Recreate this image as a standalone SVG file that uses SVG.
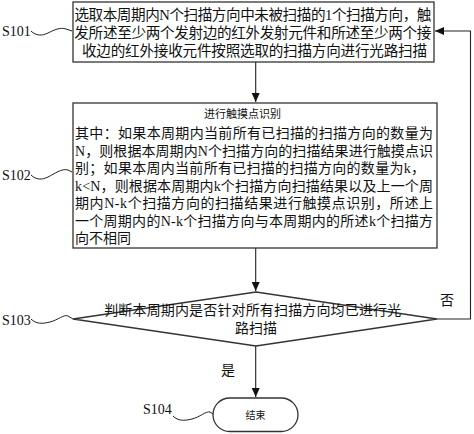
<svg xmlns="http://www.w3.org/2000/svg" width="474" height="434" viewBox="0 0 474 434">
<defs>
<marker id="arr" markerWidth="10" markerHeight="10" refX="9" refY="5" orient="auto" markerUnits="userSpaceOnUse">
<path d="M0,1 L9,5 L0,9 Z" fill="#111"/>
</marker>
<style>
.shape{fill:#fff;stroke:#333;stroke-width:1.3}
.cn{font-family:"Liberation Serif","Noto Sans CJK SC",serif;fill:#111}
.lbl{font-family:"Liberation Serif",serif;font-size:14px;fill:#111}
.conn{fill:none;stroke:#222;stroke-width:1.1}
.sq{fill:none;stroke:#222;stroke-width:1}
</style>
</defs>
<rect width="474" height="434" fill="#fff"/>
<g id="connectors">
<line class="conn" x1="255.7" y1="62" x2="255.7" y2="102" marker-end="url(#arr)"/>
<line class="conn" x1="255.7" y1="248" x2="255.7" y2="291" marker-end="url(#arr)"/>
<line class="conn" x1="255.7" y1="346" x2="255.7" y2="397" marker-end="url(#arr)"/>
<polyline class="conn" points="437,319 470.5,319 470.5,31 435,31" marker-end="url(#arr)"/>
<text class="cn" x="447" y="305" font-size="14" text-anchor="middle">否</text>
<text class="cn" x="228" y="375" font-size="14" text-anchor="middle">是</text>
</g>
<g id="S101">
<rect class="shape" x="73" y="2" width="361" height="60"/>
<text class="cn" font-size="14.6" text-anchor="middle">
<tspan x="254.5" y="20" textLength="357" lengthAdjust="spacing">选取本周期内N个扫描方向中未被扫描的1个扫描方向，触</tspan>
<tspan x="254.5" y="38" textLength="357" lengthAdjust="spacing">发所述至少两个发射边的红外发射元件和所述至少两个接</tspan>
<tspan x="254.5" y="56" textLength="345" lengthAdjust="spacing">收边的红外接收元件按照选取的扫描方向进行光路扫描</tspan>
</text>
<text class="lbl" x="2" y="36">S101</text>
<path class="sq" d="M31,31 C36,36 42,36 48,33 C54,30 60,27 66,29 L72,31"/>
</g>
<g id="S102">
<rect class="shape" x="73" y="103" width="364" height="145"/>
<text class="cn" x="242.5" y="118" font-size="11" text-anchor="middle">进行触摸点识别</text>
<text class="cn" font-size="14">
<tspan x="75" y="138" textLength="358" lengthAdjust="spacing">其中：如果本周期内当前所有已扫描的扫描方向的数量为</tspan>
<tspan x="75" y="155.5" textLength="358" lengthAdjust="spacing">N，则根据本周期内N个扫描方向的扫描结果进行触摸点识</tspan>
<tspan x="75" y="173" textLength="350" lengthAdjust="spacing">别；如果本周内当前所有已扫描的扫描方向的数量为k，</tspan>
<tspan x="75" y="190.5" textLength="358" lengthAdjust="spacing">k&lt;N，则根据本周期内k个扫描方向扫描结果以及上一个周</tspan>
<tspan x="75" y="208" textLength="358" lengthAdjust="spacing">期内N-k个扫描方向的扫描结果进行触摸点识别，所述上</tspan>
<tspan x="75" y="225.5" textLength="358" lengthAdjust="spacing">一个周期内的N-k个扫描方向与本周期内的所述k个扫描方</tspan>
<tspan x="75" y="243">向不相同</tspan>
</text>
<text class="lbl" x="2" y="180">S102</text>
<path class="sq" d="M31,175 C36,180 42,180 48,177 C54,174 62,168 68,170 L72,172"/>
</g>
<g id="S103">
<polygon class="shape" points="256,292 437,319 256,346 73,319"/>
<text class="cn" font-size="14" text-anchor="middle">
<tspan x="254.5" y="315" textLength="297" lengthAdjust="spacing">判断本周期内是否针对所有扫描方向均已进行光</tspan>
<tspan x="256" y="333">路扫描</tspan>
</text>
<text class="lbl" x="2" y="325">S103</text>
<path class="sq" d="M31,319 C36,324 42,324 50,322 C58,320 64,314 68,316 L73,319"/>
</g>
<g id="S104">
<rect class="shape" x="213" y="398" width="85" height="33.5" rx="16.7" ry="16.7"/>
<text class="cn" x="255.5" y="419" font-size="10" text-anchor="middle">结束</text>
<text class="lbl" x="143" y="414">S104</text>
<path class="sq" d="M173,416 C178,421 184,421 192,419 C200,417 206,411 210,412 L213,414"/>
</g>
</svg>
